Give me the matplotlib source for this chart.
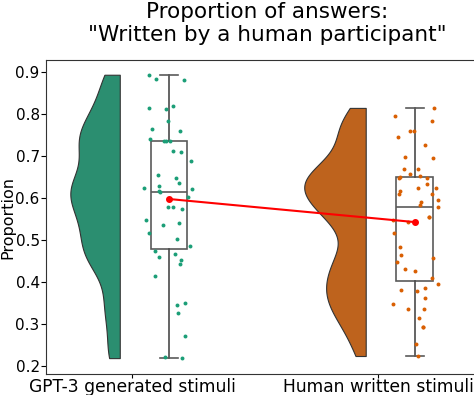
import matplotlib
matplotlib.use("Agg")
import matplotlib.pyplot as plt
import numpy as np

# data
categories = ["GPT-3 generated stimuli", "Human written stimuli"]
gpt3_values = [0.894, 0.884, 0.882, 0.820, 0.814, 0.813, 0.783, 0.764, 0.760,
               0.741, 0.737, 0.736, 0.735, 0.712, 0.710, 0.689, 0.655, 0.647,
               0.637, 0.630, 0.625, 0.621, 0.616, 0.614, 0.603, 0.580, 0.579,
               0.574, 0.549, 0.541, 0.537, 0.518, 0.502, 0.487, 0.475, 0.467,
               0.460, 0.453, 0.442, 0.414, 0.351, 0.345, 0.326, 0.271, 0.221,
               0.219]
human_values = [0.815, 0.795, 0.784, 0.760, 0.760, 0.745, 0.726, 0.699, 0.695,
                0.670, 0.670, 0.657, 0.652, 0.651, 0.649, 0.647, 0.633, 0.625,
                0.625, 0.616, 0.609, 0.609, 0.596, 0.590, 0.584, 0.578, 0.556,
                0.556, 0.548, 0.544, 0.518, 0.484, 0.464, 0.457, 0.448, 0.432,
                0.426, 0.410, 0.395, 0.387, 0.382, 0.378, 0.361, 0.347, 0.337,
                0.337, 0.314, 0.293, 0.293, 0.252, 0.224]
means = [0.598, 0.543]
yticks = [0.2, 0.3, 0.4, 0.5, 0.6, 0.7, 0.8, 0.9]

violin_colors = ["#2b8e70", "#be631d"]
point_colors = ["#1b9e77", "#d95f02"]


def kde(values, grid, bw_factor=0.6):
    v = np.asarray(values)
    bw = bw_factor * v.std(ddof=1) * len(v) ** (-1 / 5)
    d = np.exp(-0.5 * ((grid[:, None] - v[None, :]) / bw) ** 2).sum(axis=1)
    return d / (len(v) * bw * np.sqrt(2 * np.pi))


fig = plt.figure(figsize=(4.74, 3.95), dpi=100)
ax = fig.add_axes([0.097, 0.053, 0.934, 0.795])

groups = [gpt3_values, human_values]
grids = [np.linspace(min(g), max(g), 300) for g in groups]
dens = [kde(g, gr) for g, gr in zip(groups, grids)]
scale = 0.25 / max(d.max() for d in dens)

rng = np.random.default_rng(3)
for i, (vals, gr, d) in enumerate(zip(groups, grids, dens)):
    # half violin ("cloud") on the left
    edge = i - 0.05
    ax.fill_betweenx(gr, edge - d * scale, edge, facecolor=violin_colors[i],
                     edgecolor="#333333", linewidth=0.8, zorder=1)
    # jittered points ("rain")
    jit = rng.uniform(-0.1, 0.1, len(vals))
    ax.scatter(i + 0.15 + jit, vals, s=8, color=point_colors[i],
               linewidths=0, zorder=4)

ax.boxplot(groups, positions=[0.15, 1.15], widths=0.15, showfliers=False,
           patch_artist=True, manage_ticks=False,
           boxprops=dict(facecolor="none", edgecolor="#5a5a5a", linewidth=1.2),
           medianprops=dict(color="#5a5a5a", linewidth=1.2),
           whiskerprops=dict(color="#4a4a4a", linewidth=1.2),
           capprops=dict(color="#5a5a5a", linewidth=1.2), zorder=3)

ax.plot([0.15, 1.15], means, color="red", linewidth=1.5, marker="o",
        markersize=4, zorder=5)

ax.set_xlim(-0.35, 1.45)
ax.set_ylim(0.181, 0.929)
ax.set_xticks([0, 1])
ax.set_xticklabels(categories, fontsize=12.3)
ax.tick_params(axis="x", pad=0, length=3)
ax.set_yticks(yticks)
ax.set_yticklabels([f"{t:.1f}" for t in yticks], fontsize=11)
ax.tick_params(axis="y", pad=1)
ax.set_ylabel("Proportion", fontsize=11.5)
ax.yaxis.set_label_coords(-0.069, 0.5)
ax.set_title('Proportion of answers:\n"Written by a human participant"',
             fontsize=15.5, pad=13.5)
for s in ax.spines.values():
    s.set_color("#333333")

fig.savefig("out.png", dpi=100)
